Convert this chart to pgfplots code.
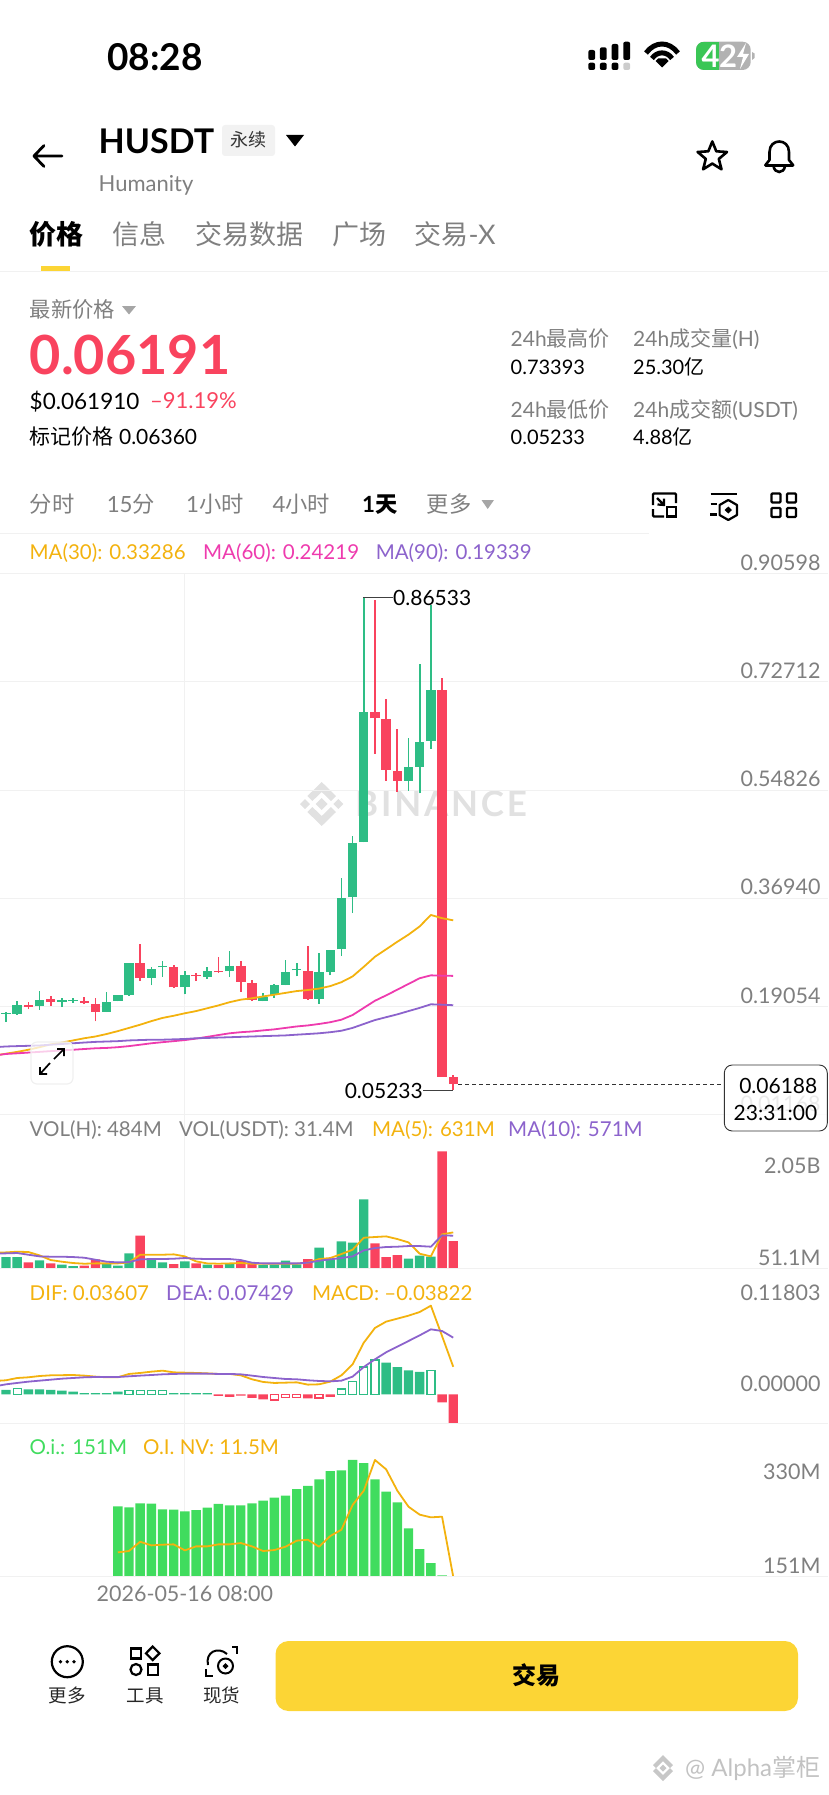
\documentclass[border=0pt]{standalone}
\usepackage{fontspec}
\usepackage{pgfplots}
\usepackage{pgfplotstable}
\pgfplotsset{compat=1.18}
\usetikzlibrary{shapes.geometric}
\setmainfont{Lato}
\newfontfamily\cjk{Noto Sans CJK SC}
\newcommand\C[1]{{\cjk #1}}
\definecolor{cg}{HTML}{2EBD85}
\definecolor{cr}{HTML}{F9435E}
\definecolor{cy}{HTML}{F3B20E}
\definecolor{cp}{HTML}{EE3BAE}
\definecolor{cv}{HTML}{8C63CC}
\definecolor{coi}{HTML}{40DC5E}
\definecolor{tgray}{HTML}{7F7F7F}
\definecolor{gridc}{HTML}{F1F1F1}
\definecolor{wm}{HTML}{E1E1E1}
\definecolor{cby}{HTML}{FCD535}

\pgfplotstableread{
i hi top bot lo
0 .1810 .1804 .1792 .1644
1 .1993 .1934 .1780 .1769
3 .2164 .2017 .1910 .1851
5 .2040 .2011 .1981 .1893
6 .2052 .2017 .1987 .1969
9 .2147 .1981 .1816 .1810
10 .2099 .2088 .1993 .1987
11 .2631 .2619 .2088 .2082
13 .2560 .2519 .2383 .2253
14 .2655 .2566 .2549 .2395
16 .2484 .2424 .2218 .2105
18 .2560 .2484 .2395 .2359
20 .2814 .2566 .2484 .2389
23 .2135 .2064 .1993 .1987
24 .2283 .2253 .2088 .2046
25 .2678 .2478 .2265 .2253
26 .2631 .2519 .2501 .2401
28 .2785 .2466 .2034 .1946
29 .2844 .2838 .2478 .2419
30 .4026 .3695 .2850 .2738
31 .4717 .4611 .3707 .3447
32 .86533 .6779 .4623 .4617
36 .6348 .5858 .5633 .5474
37 .7559 .6277 .5869 .5426
38 .8546 .7134 .6289 .6165
}\cgreen
\pgfplotstableread{
i hi top bot lo
2 .1975 .1934 .1899 .1857
4 .2076 .2029 .1981 .1910
7 .2064 .1987 .1964 .1940
8 .2052 .1952 .1816 .1656
12 .2944 .2619 .2371 .2330
15 .2590 .2554 .2218 .2212
17 .2454 .2430 .2407 .2324
19 .2726 .2489 .2466 .2460
21 .2649 .2572 .2312 .2147
22 .2342 .2300 .2005 .1993
27 .2903 .2489 .2034 .2017
33 .8617 .6779 .6667 .6082
34 .6992 .6655 .5816 .5639
35 .6490 .5799 .5633 .5456
39 .7335 .7134 .0746 .0740
40 .0776 .0734 .06188 .05233
}\cred
\pgfplotstableread{
i ma30 ma60 ma90
-1 .1095 .1095 .1231
0 .1124 .1119 .1243
1 .1154 .1130 .1249
2 .1189 .1142 .1254
3 .1231 .1154 .1260
4 .1278 .1166 .1272
5 .1308 .1178 .1284
6 .1343 .1189 .1296
7 .1379 .1201 .1308
8 .1408 .1213 .1319
9 .1449 .1219 .1325
10 .1497 .1231 .1331
11 .1550 .1249 .1343
12 .1603 .1272 .1349
13 .1662 .1296 .1355
14 .1715 .1314 .1355
15 .1751 .1331 .1361
16 .1792 .1349 .1367
17 .1828 .1373 .1379
18 .1875 .1402 .1384
19 .1922 .1432 .1390
20 .1975 .1461 .1396
21 .2017 .1479 .1402
22 .2040 .1491 .1408
23 .2070 .1509 .1414
24 .2099 .1526 .1420
25 .2129 .1550 .1426
26 .2159 .1574 .1438
27 .2176 .1591 .1449
28 .2200 .1615 .1461
29 .2241 .1644 .1479
30 .2306 .1686 .1503
31 .2401 .1763 .1550
32 .2560 .1881 .1615
33 .2726 .1999 .1680
34 .2850 .2088 .1727
35 .2974 .2182 .1774
36 .3092 .2277 .1828
37 .3228 .2371 .1881
38 .3417 .2419 .1940
39 .3364 .2413 .1934
40 .33286 .2410 .1925
}\mas
\pgfplotstableread{
i v
0 305
1 305
3 233
5 138
6 109
9 167
10 117
11 386
13 284
14 189
16 211
18 138
20 160
23 131
24 138
25 226
26 146
28 509
29 247
30 647
31 618
32 1563
36 269
37 335
38 313
}\volg
\pgfplotstableread{
i v
2 189
4 167
7 117
8 255
12 771
15 153
17 167
19 131
21 218
22 189
27 262
33 604
34 305
35 349
39 2610
40 655
}\volr
\pgfplotstableread{
i ma5 ma10
-1 400 380
0 407 386
1 422 393
2 415 356
3 342 320
4 240 313
5 204 313
6 175 305
7 160 291
8 167 247
9 167 204
10 167 189
11 189 196
12 356 255
13 356 262
14 356 262
15 364 269
16 320 284
17 211 269
18 167 262
19 160 262
20 167 262
21 175 240
22 160 182
23 160 167
24 160 167
25 160 167
26 160 167
27 182 182
28 262 226
29 284 255
30 371 284
31 465 320
32 727 451
33 742 502
34 756 524
35 698 531
36 625 545
37 378 545
38 320 531
39 800 778
40 843 771
}\volma
\pgfplotstableread{
i v
0 .0057
2 .0066
3 .0066
4 .0057
5 .0048
6 .0035
7 .0017
8 .0017
9 .0017
10 .0035
15 .0017
16 .0017
17 .0017
18 .0017
34 .0415
35 .0358
36 .0315
37 .0293
}\macdg
\pgfplotstableread{
i v
1 .0079
11 .0048
12 .0048
13 .0048
14 .0048
30 .0070
31 .0170
32 .0358
33 .0450
38 .0315
}\macdgh
\pgfplotstableread{
i v
19 -.0022
20 -.0035
21 -.0017
22 -.0048
23 -.0066
27 -.0052
29 -.0035
39 -.0105
40 -.03822
}\macdr
\pgfplotstableread{
i v
24 -.0074
25 -.0044
26 -.0044
28 -.0048
}\macdrh
\pgfplotstableread{
i dif dea
-1 .0175 .0105
0 .0184 .0131
1 .0214 .0149
2 .0223 .0166
3 .0240 .0179
4 .0249 .0192
5 .0251 .0205
6 .0253 .0214
7 .0245 .0223
8 .0232 .0227
9 .0223 .0227
10 .0223 .0227
11 .0267 .0236
12 .0280 .0245
13 .0297 .0253
14 .0310 .0262
15 .0288 .0267
16 .0284 .0271
17 .0280 .0271
18 .0275 .0271
19 .0267 .0267
20 .0267 .0267
21 .0249 .0262
22 .0197 .0245
23 .0162 .0227
24 .0149 .0214
25 .0153 .0201
26 .0157 .0197
27 .0127 .0184
28 .0131 .0175
29 .0166 .0170
30 .0249 .0179
31 .0393 .0232
32 .0677 .0358
33 .0870 .0459
34 .0953 .0551
35 .0992 .0625
36 .1031 .0699
37 .1079 .0773
38 .1162 .0852
39 .0765 .0830
40 .0361 .0743
}\macdl
\pgfplotstableread{
i oi nv
10 285.4 56
11 283.5 58.5
12 291.1 75.5
13 290.5 68.8
14 279.7 70.1
15 279 70.7
16 275.9 59.7
17 278.4 67
18 282.9 67
19 289.9 70.7
20 287.3 70.7
21 287.3 73.1
22 291.1 67
23 296.2 58.5
24 302 60.3
25 305.8 66.4
26 318.5 77.4
27 324.3 79.2
28 337 66.4
29 352.9 85.9
30 354.2 97.5
31 374 142.7
32 368.2 168.9
33 337 225
34 313.4 207.9
35 293 168.9
36 243.4 139.6
37 203.9 125
38 177.1 120.1
39 153.5 121.3
40 151 11.5
}\oidata

\pgfplotsset{
  panel/.style={scale only axis,width=828pt,xmin=-0.537,xmax=73.52,anchor=north west,
    axis line style={draw=none},tick style={draw=none},major tick length=0pt,
    xmajorgrids,xtick={16},xticklabels={},
    major grid style={line width=1pt,gridc},
    yticklabel pos=right,
    yticklabel style={anchor=east,xshift=-4pt,yshift=11pt,text=tgray,font=\fontsize{21.5}{24}\selectfont},
    clip=true},
  wickbar/.style={draw=none,mark=none,forget plot,error bars/.cd,y dir=plus,y explicit,error mark=none,
    error bar style={solid,draw=#1,line width=1.7pt}},
  bodybar/.style={draw=none,mark=none,forget plot,error bars/.cd,y dir=plus,y explicit,error mark=none,
    error bar style={solid,draw=#1,line width=9.4pt}},
  vbar/.style={ybar,bar shift=0pt,bar width=9.4pt,fill=#1,draw=none,forget plot},
  hbar/.style={ybar,bar shift=0pt,bar width=8pt,fill=white,draw=#1,line width=1.3pt,forget plot},
  mline/.style={draw=#1,line width=1.8pt,mark=none,line join=round,forget plot}
}
\newcommand{\T}[5]{\node[anchor=#1,inner sep=0pt,text=#2,text height=\dimexpr #3pt*72/100\relax,text depth=0pt,font=\fontsize{#3}{#3}\selectfont] at #4 {#5};}
\newcommand{\B}[5]{\node[anchor=#1,inner sep=0pt,text=#2,text height=\dimexpr #3pt*72/100\relax,text depth=0pt,font=\fontsize{#3}{#3}\selectfont\bfseries] at #4 {#5};}

\begin{document}
\begin{tikzpicture}
\path[use as bounding box] (0pt,0pt) rectangle (828pt,-1795pt);

% watermark under the chart
\begin{scope}[x=1pt,y=-1pt]
\fill[wm] (321.7,782)--(336,796)--(331,801)--(321.7,792)--(312.4,801)--(307.4,796)--cycle;
\fill[wm] (321.7,826)--(336,812)--(331,807)--(321.7,816)--(312.4,807)--(307.4,812)--cycle;
\fill[wm] (321.7,798)--(327.7,804)--(321.7,810)--(315.7,804)--cycle;
\fill[wm] (305,799)--(310,804)--(305,809)--(300,804)--cycle;
\fill[wm] (338.4,799)--(343.4,804)--(338.4,809)--(333.4,804)--cycle;
\node[anchor=west,inner sep=0pt,text=wm,font=\fontsize{35}{35}\selectfont\bfseries\addfontfeatures{LetterSpace=8}] at (355,804) {BINANCE};
\end{scope}

% price panel
\begin{axis}[panel,at={(0pt,-573.6pt)},height=541pt,ymin=0.01168,ymax=0.90598,
  ymajorgrids,ytick={0.01168,0.19054,0.36940,0.54826,0.72712,0.90598},
  yticklabels={0.01168,0.19054,0.36940,0.54826,0.72712,0.90598}]
\addplot[wickbar=cg] table[x=i,y=lo,y error plus expr=\thisrow{hi}-\thisrow{lo}] {\cgreen};
\addplot[bodybar=cg] table[x=i,y=bot,y error plus expr=\thisrow{top}-\thisrow{bot}] {\cgreen};
\addplot[wickbar=cr] table[x=i,y=lo,y error plus expr=\thisrow{hi}-\thisrow{lo}] {\cred};
\addplot[bodybar=cr] table[x=i,y=bot,y error plus expr=\thisrow{top}-\thisrow{bot}] {\cred};
\addplot[mline=cy] table[x=i,y=ma30] {\mas};
\addplot[mline=cp] table[x=i,y=ma60] {\mas};
\addplot[mline=cv] table[x=i,y=ma90] {\mas};
\end{axis}

% volume panel
\begin{axis}[panel,at={(0pt,-1115pt)},height=153.7pt,ymin=51.1,ymax=3402,
  ytick={51.1,2050},yticklabels={51.1M,2.05B}]
\addplot[vbar=cg] table[x=i,y=v] {\volg};
\addplot[vbar=cr] table[x=i,y=v] {\volr};
\addplot[mline=cy] table[x=i,y=ma5] {\volma};
\addplot[mline=cv] table[x=i,y=ma10] {\volma};
\end{axis}

% MACD panel
\begin{axis}[panel,at={(0pt,-1268.7pt)},height=154.6pt,ymin=-0.03802,ymax=0.16466,
  ytick={0,0.11803},yticklabels={0.00000,0.11803}]
\addplot[vbar=cg] table[x=i,y=v] {\macdg};
\addplot[hbar=cg] table[x=i,y=v] {\macdgh};
\addplot[vbar=cr] table[x=i,y=v] {\macdr};
\addplot[hbar=cr] table[x=i,y=v] {\macdrh};
\addplot[mline=cy] table[x=i,y=dif] {\macdl};
\addplot[mline=cv] table[x=i,y=dea] {\macdl};
\end{axis}

% open interest panel
\begin{axis}[panel,at={(0pt,-1423.3pt)},height=153.4pt,ymin=151,ymax=444,
  ytick={151,330},yticklabels={151M,330M},
  xticklabels={2026-05-16 08:00},
  xticklabel style={text=tgray,font=\fontsize{21.5}{24}\selectfont,yshift=-6pt}]
\addplot[vbar=coi] table[x=i,y=oi] {\oidata};
\end{axis}
\begin{axis}[panel,at={(0pt,-1423.3pt)},height=153.4pt,ymin=11.5,ymax=292.1,
  xmajorgrids=false,ytick=\empty,xtick=\empty]
\addplot[mline=cy] table[x=i,y=nv] {\oidata};
\end{axis}

\begin{scope}[x=1pt,y=-1pt]
% panel rules
\draw[gridc,line width=1pt] (0,1268.7)--(828,1268.7);
\draw[gridc,line width=1pt] (0,1423.3)--(828,1423.3);
\draw[gridc,line width=1pt] (0,1576.7)--(828,1576.7);
\draw[gridc,line width=1pt] (0,533)--(649,533);
\draw[gridc,line width=1pt] (0,271.5)--(828,271.5);

% chart notes
\draw[black!75,line width=.8pt] (363.3,597.6)--(393,597.6);
\T{west}{black}{21}{(393,598.4)}{0.86533}
\draw[black!75,line width=.8pt] (423,1090)--(453,1090);
\draw[cr,line width=1.6pt] (453.3,1086)--(453.3,1090);
\T{east}{black}{21}{(423,1091)}{0.05233}
\draw[black!80,dash pattern=on 4pt off 3pt,line width=.8pt] (458,1084.6)--(724.3,1084.6);
\draw[black!80,line width=.9pt,fill=white,fill opacity=.84,rounded corners=8pt] (724.3,1065) rectangle (827.3,1131);
\T{east}{black}{21}{(817.5,1085.7)}{0.06188}
\T{east}{black}{21}{(817.5,1112.7)}{23:31:00}

% expand button
\draw[black!6,line width=1.2pt,fill=white,fill opacity=.75,rounded corners=6pt] (31,1042) rectangle (73,1084);
\draw[black,line width=1.7pt] (54,1059)--(64,1049) (57,1049)--(64,1049)--(64,1056);
\draw[black,line width=1.7pt] (50,1063)--(40,1074) (40,1067)--(40,1074)--(47,1074);

% legends
\T{west}{cy}{20.5}{(29.5,552)}{MA(30): 0.33286}
\T{west}{cp}{20.5}{(203,552)}{MA(60): 0.24219}
\T{west}{cv}{20.5}{(375.6,552)}{MA(90): 0.19339}
\T{west}{tgray}{20.5}{(29.5,1129)}{VOL(H): 484M}
\T{west}{tgray}{20.5}{(179,1129)}{VOL(USDT): 31.4M}
\T{west}{cy}{20.5}{(372,1129)}{MA(5): 631M}
\T{west}{cv}{20.5}{(508,1129)}{MA(10): 571M}
\T{west}{cy}{20.5}{(29.5,1293)}{DIF: 0.03607}
\T{west}{cv}{20.5}{(166,1293)}{DEA: 0.07429}
\T{west}{cy}{20.5}{(312,1293)}{MACD: --0.03822}
\T{west}{coi}{20.5}{(29.5,1446.7)}{O.i.: 151M}
\T{west}{cy}{20.5}{(143,1446.7)}{O.I. NV: 11.5M}

% status bar
\B{west}{black}{37}{(107,57)}{08:28}
\foreach \x/\t in {591.7/50,603.3/47.3,615/44,626.7/41.7}
  \fill[black,rounded corners=2pt] (\x-3.4,\t) rectangle (\x+3.4,60);
\foreach \x in {591.7,603.3,615}
  \fill[black,rounded corners=2pt] (\x-3.4,62.7) rectangle (\x+3.4,70);
\fill[black!20,rounded corners=2pt] (623.3,62.7) rectangle (630.1,70);
\draw[black,line width=5pt] (646,53) .. controls (655,41) and (669,41) .. (678,53);
\draw[black,line width=5pt] (652,58.5) .. controls (657,51) and (667,51) .. (672,58.5);
\fill[black] (662,67.5)--(655.5,61)--(658,58.5)--(666,58.5)--(668.5,61)--cycle;
\fill[black!30,rounded corners=8pt] (696,41.7) rectangle (750.7,70);
\begin{scope}
\clip[rounded corners=8pt] (696,41.7) rectangle (750.7,70);
\fill[coi!90!black] (696,41.7) rectangle (719,70);
\end{scope}
\fill[black!30] (752,52)--(754.5,53.5)--(754.5,58)--(752,60)--cycle;
\node[inner sep=0pt,text=white,font=\fontsize{31}{31}\selectfont\bfseries] at (710.5,56) {4};
\node[inner sep=0pt,text=white,font=\fontsize{31}{31}\selectfont\bfseries] at (728,56) {2};
\fill[white] (746,43)--(737,57)--(743,57)--(740,69)--(749,54)--(743,54)--cycle;

% header
\draw[black,line width=2.8pt,line cap=round,line join=round] (62,156)--(34,156) (44,145.5)--(34,156)--(44,166.5);
\B{west}{black}{34}{(98.5,141)}{HUSDT}
\fill[black!5,rounded corners=3pt] (222,125) rectangle (275,156);
\T{center}{black!80}{18}{(248.5,140.5)}{\C{永续}}
\fill[black] (286,135)--(304,135)--(295,146.5)--cycle;
\T{west}{tgray}{22}{(98.5,184)}{Humanity}
\draw[black,line width=2.6pt,line join=round]
 (712.3,141.5)--(716.3,151.3)--(727,152)--(718.8,158.9)--(721.5,169.3)--(712.3,163.6)--(703.1,169.3)--(705.8,158.9)--(697.6,152)--(708.3,151.3)--cycle;
\draw[black,line width=2.6pt,line join=round]
 (765.5,165) -- (769.5,160) -- (769.5,152) .. controls (769.5,138) and (789,138) .. (789,152) -- (789,160) -- (793,165) -- (793,165.5) -- (765.5,165.5) -- cycle;
\draw[black,line width=2.6pt] (773.5,166) .. controls (774.5,174) and (784,174) .. (785,166);

% tabs
\B{west}{black}{27}{(29.5,235)}{\C{价格}}
\T{west}{tgray}{27}{(112,235)}{\C{信息}}
\T{west}{tgray}{27}{(195,235)}{\C{交易数据}}
\T{west}{tgray}{27}{(332,235)}{\C{广场}}
\T{west}{tgray}{27}{(414.5,235)}{\C{交易}-X}
\fill[cby] (41,266) rectangle (70,271);

% price block
\T{west}{tgray}{21.3}{(29.5,309.6)}{\C{最新价格}}
\fill[black!35] (122,306)--(136,306)--(129,314.5)--cycle;
\B{west}{cr}{54}{(29.5,355)}{0.06191}
\T{west}{black}{22.5}{(29.5,401)}{\$0.061910}
\T{west}{cr}{22}{(150,401)}{--91.19\%}
\T{west}{black}{21}{(29.5,437)}{\C{标记价格} 0.06360}
\T{west}{tgray}{21}{(510.5,339)}{24h\C{最高价}}
\T{west}{black}{20}{(510.5,367)}{0.73393}
\T{west}{tgray}{21}{(633,339)}{24h\C{成交量}(H)}
\T{west}{black}{20}{(633,367)}{25.30\C{亿}}
\T{west}{tgray}{21}{(510.5,409.5)}{24h\C{最低价}}
\T{west}{black}{20}{(510.5,437.5)}{0.05233}
\T{west}{tgray}{21}{(633,409.5)}{24h\C{成交额}(USDT)}
\T{west}{black}{20}{(633,437.5)}{4.88\C{亿}}

% intervals
\T{west}{tgray}{22.3}{(29.5,504.5)}{\C{分时}}
\T{west}{tgray}{22.3}{(106.6,504.5)}{15\C{分}}
\T{west}{tgray}{22.3}{(186,504.5)}{1\C{小时}}
\T{west}{tgray}{22.3}{(272.5,504.5)}{4\C{小时}}
\B{west}{black}{22.3}{(362,504.5)}{1\C{天}}
\T{west}{tgray}{22.3}{(426.6,504.5)}{\C{更多}}
\fill[black!35] (481.5,500)--(494,500)--(487.7,509)--cycle;
\draw[black,line width=2.2pt,rounded corners=1pt] (653,505) -- (653,493.5) -- (676,493.5) -- (676,503) (664,516.5) -- (653,516.5) -- (653,509);
\draw[black,line width=2.2pt] (667,507) rectangle (676,516.5);
\draw[black,line width=2.2pt] (657,498)--(664,505) (657.5,504.5)--(664,505)--(664,498.5);
\draw[black,line width=2.2pt] (710.7,494)--(737,494) (710.7,504)--(717,504) (710,514.5)--(717,514.5);
\draw[black,line width=2.2pt,line join=round] (728.3,500)--(737,505)--(737,515)--(728.3,520)--(719.6,515)--(719.6,505)--cycle;
\fill[black] (728.3,506.5)--(732,510)--(728.3,513.5)--(724.6,510)--cycle;
\foreach \x/\y in {771.5/493.5,787/493.5,771.5/508,787/508}
  \draw[black,line width=2.2pt,rounded corners=1pt] (\x,\y) rectangle (\x+9,\y+9);

% bottom bar
\draw[black,line width=2.2pt] (67.3,1661.7) circle[radius=15.5pt];
\foreach \x in {60.5,67.3,74}\fill[black] (\x,1661.7) circle[radius=1.9pt];
\draw[black,line width=2.2pt] (131,1648.5) rectangle (141,1658.5);
\draw[black,line width=2.2pt] (152.7,1646.5)--(159.5,1653.3)--(152.7,1660)--(146,1653.3)--cycle;
\draw[black,line width=2.2pt] (136,1669.5) circle[radius=5.5pt];
\draw[black,line width=2.2pt] (148,1664.5) rectangle (158,1675);
\draw[black,line width=2pt] (232,1646.5)--(237,1646.5)--(237,1654) (206,1669)--(206,1676)--(213,1676);
\draw[black,line width=2pt] (208,1665) .. controls (205,1652) and (218,1646) .. (227,1654);
\draw[black,line width=2pt] (225.5,1666) circle[radius=7.5pt];
\fill[black] (225.5,1663)--(228.5,1666)--(225.5,1669)--(222.5,1666)--cycle;
\T{center}{black!85}{18.5}{(67,1695.7)}{\C{更多}}
\T{center}{black!85}{18.5}{(145,1695.7)}{\C{工具}}
\T{center}{black!85}{18.5}{(221.7,1695.7)}{\C{现货}}
\fill[cby,rounded corners=13pt] (275.5,1641) rectangle (798,1711);
\B{center}{black}{24}{(536,1675.5)}{\C{交易}}

% corner mark
\fill[black!22] (663,1755)--(673,1765)--(670,1768)--(663,1761)--(656,1768)--(653,1765)--cycle;
\fill[black!22] (663,1781)--(673,1771)--(670,1768)--(663,1775)--(656,1768)--(653,1771)--cycle;
\fill[black!22] (663,1764.5)--(666.5,1768)--(663,1771.5)--(659.5,1768)--cycle;
\T{west}{black!24}{24}{(685,1768)}{@ Alpha\C{掌柜}}
\end{scope}
\end{tikzpicture}
\end{document}
